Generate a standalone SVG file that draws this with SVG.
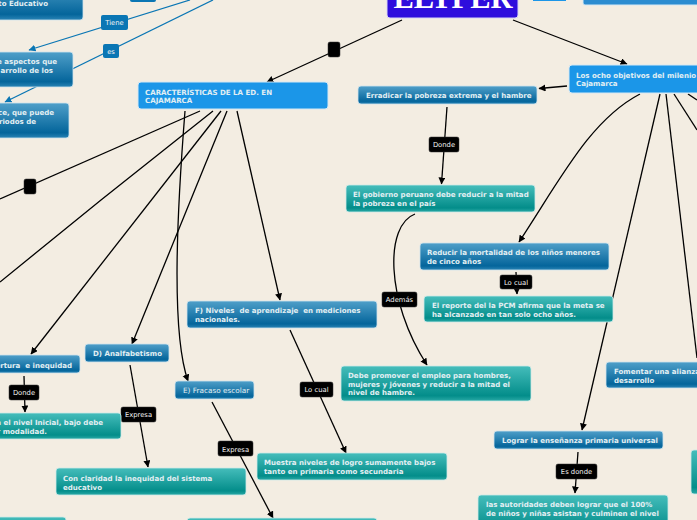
<svg xmlns="http://www.w3.org/2000/svg" width="697" height="520" viewBox="0 0 697 520">
<defs>
<linearGradient id="gb" x1="0" y1="0" x2="0" y2="1"><stop offset="0" stop-color="#4f9fc9"/><stop offset="0.85" stop-color="#04659b"/><stop offset="1" stop-color="#2a84b5"/></linearGradient>
<linearGradient id="gt" x1="0" y1="0" x2="0" y2="1"><stop offset="0" stop-color="#45bdbb"/><stop offset="0.85" stop-color="#038d8a"/><stop offset="1" stop-color="#2aa9a6"/></linearGradient>
<marker id="a" markerWidth="8" markerHeight="8" refX="6.500" refY="3.500" orient="auto" markerUnits="userSpaceOnUse"><path d="M0 0L7 3.500L0 7z" fill="#000"/></marker>
<marker id="ab" markerWidth="8" markerHeight="8" refX="6.500" refY="3.500" orient="auto" markerUnits="userSpaceOnUse"><path d="M0 0L7 3.500L0 7z" fill="#0a76b4"/></marker>
</defs>
<style>
text{font-family:"DejaVu Sans",sans-serif;font-size:7.05px;font-weight:700;fill:#e2eff3;white-space:pre}
.b{fill:url(#gb);stroke:#cfe3ee;stroke-width:.8}
.t{fill:url(#gt);stroke:#cdeae8;stroke-width:.8}
.s{fill:#1b96e8;stroke:#d5e8f4;stroke-width:1}
.l{fill:#000;stroke:#333;stroke-width:.5}
.lb{fill:#0a76b4}
.lt{font-weight:400;font-size:6.8px;fill:#f4f4f4;text-anchor:middle}
.r{text-anchor:end}
#connectors path{fill:none;stroke:#000;stroke-width:1.3}
#connectors .bl{stroke:#0a76b4}
</style>
<rect width="697" height="520" fill="#f3ede2"/>
<g id="connectors">
<path d="M402 20L267 82" marker-end="url(#a)"/>
<path d="M513 20L627 64" marker-end="url(#a)"/>
<path d="M567 86L539 88.500" marker-end="url(#a)"/>
<path d="M447 107L441.500 184" marker-end="url(#a)"/>
<path d="M200 111L0 199"/>
<path d="M213 111L101 200L0 282"/>
<path d="M221 111L31 354" marker-end="url(#a)"/>
<path d="M227 111L132 344" marker-end="url(#a)"/>
<path d="M237 111L280 300" marker-end="url(#a)"/>
<path d="M185 111C178 200 170 330 188 381" marker-end="url(#a)"/>
<path d="M24 376L25 412" marker-end="url(#a)"/>
<path d="M130 365L148 467" marker-end="url(#a)"/>
<path d="M212 402L273 518" marker-end="url(#a)"/>
<path d="M290 330L346 453" marker-end="url(#a)"/>
<path d="M415 214C385 225 385 300 427 365" marker-end="url(#a)"/>
<path d="M640 94C590 120 560 180 519 242" marker-end="url(#a)"/>
<path d="M516 272L517 294" marker-end="url(#a)"/>
<path d="M660 94L582 430" marker-end="url(#a)"/>
<path d="M666 94L697 358"/>
<path d="M674 94L697 130"/>
<path d="M688 94L697 100"/>
<path d="M578 452L575 493" marker-end="url(#a)"/>
<path class="bl" d="M190 0L29 50" marker-end="url(#ab)"/>
<path class="bl" d="M213 0L5 102" marker-end="url(#ab)"/>
</g>
<g id="n-eltper"><rect x="387" y="-10" width="131" height="28" rx="3" fill="#2e0ddd" stroke="#d8d4f4"/><text x="453" y="7.500" text-anchor="middle" style="font-family:'Liberation Serif',serif;font-size:30.5px;fill:#fff">ELTPER</text></g>
<g id="n-top1"><rect x="130" y="-8" width="26" height="10" rx="2" fill="#0a76b4"/></g>
<g id="n-top2"><rect x="533" y="-8" width="33" height="9" fill="#1b96e8"/></g>
<g id="n-top3"><rect x="583" y="-10" width="120" height="15" rx="2" fill="#2b8cd0" stroke="#d5e8f4"/></g>
<g id="n-edu"><rect x="-20" y="-18" width="103" height="38" rx="3" class="b"/><text x="48" y="6" class="r">to Educativo</text></g>
<g id="n-aspectos"><rect x="-60" y="52" width="133" height="35" rx="3" class="b"/><text x="57" y="64" class="r">e aspectos que</text><text x="53" y="73" class="r">arrollo de los</text></g>
<g id="n-puede"><rect x="-60" y="103" width="129" height="35" rx="3" class="b"/><text x="54" y="115" class="r">ce, que puede</text><text x="36" y="124" class="r">riodos de</text></g>
<g id="l-tiene"><rect x="101" y="15" width="27" height="15" rx="2" class="lb"/><text x="114.500" y="25" class="lt">Tiene</text></g>
<g id="l-es"><rect x="103" y="44" width="16" height="14" rx="2" class="lb"/><text x="111" y="53.500" class="lt">es</text></g>
<g id="j1"><rect x="328" y="42" width="12" height="15" rx="2" class="l"/></g>
<g id="j2"><rect x="24" y="179" width="12" height="15" rx="2" class="l"/></g>
<g id="n-carac"><rect x="138" y="82" width="190" height="27" rx="3" class="s"/><text x="145" y="95">CARACTERÍSTICAS DE LA ED. EN</text><text x="145" y="103">CAJAMARCA</text></g>
<g id="n-ocho"><rect x="569" y="65" width="140" height="28" rx="3" class="s"/><text x="576" y="78">Los ocho objetivos del milenio</text><text x="576" y="86">Cajamarca</text></g>
<g id="n-erradicar"><rect x="358" y="86" width="179" height="18" rx="3" class="b"/><text x="366" y="98">Erradicar la pobreza extrema y el hambre</text></g>
<g id="l-donde1"><rect x="429" y="137" width="30" height="15" rx="2" class="l"/><text x="444" y="147" class="lt">Donde</text></g>
<g id="n-gob"><rect x="346" y="185" width="189" height="27" rx="3" class="t"/><text x="353" y="197">El gobierno peruano debe reducir a la mitad</text><text x="353" y="206">la pobreza en el país</text></g>
<g id="n-reducir"><rect x="420" y="243" width="189" height="27" rx="3" class="b"/><text x="427" y="255">Reducir la mortalidad de los niños menores</text><text x="427" y="264">de cinco años</text></g>
<g id="l-locual1"><rect x="500" y="275" width="32" height="14" rx="2" class="l"/><text x="516" y="285" class="lt">Lo cual</text></g>
<g id="n-reporte"><rect x="424" y="296" width="189" height="26" rx="3" class="t"/><text x="432" y="308">El reporte del la PCM afirma que la meta se</text><text x="432" y="317">ha alcanzado en tan solo ocho años.</text></g>
<g id="l-ademas"><rect x="382" y="292" width="35" height="15" rx="2" class="l"/><text x="399.500" y="302" class="lt">Además</text></g>
<g id="n-promover"><rect x="341" y="366" width="190" height="35" rx="3" class="t"/><text x="348" y="378">Debe promover el empleo para hombres,</text><text x="348" y="387">mujeres y jóvenes y reducir a la mitad el</text><text x="348" y="395">nivel de hambre.</text></g>
<g id="n-fomentar"><rect x="606" y="362" width="120" height="26" rx="3" class="b"/><text x="614" y="374">Fomentar una alianza</text><text x="614" y="383">desarrollo</text></g>
<g id="n-lograr"><rect x="494" y="431" width="169" height="18" rx="3" class="b"/><text x="502" y="443">Lograr la enseñanza primaria universal</text></g>
<g id="l-esdonde"><rect x="556" y="464" width="41" height="15" rx="2" class="l"/><text x="576.500" y="474" class="lt">Es donde</text></g>
<g id="n-autoridades"><rect x="478" y="495" width="190" height="40" rx="3" class="t"/><text x="486" y="507">las autoridades deben lograr que el 100%</text><text x="486" y="516">de niños y niñas asistan y culminen el nivel</text></g>
<g id="n-right"><rect x="691" y="450" width="20" height="44" rx="3" class="t"/></g>
<g id="n-f"><rect x="187" y="301" width="190" height="27" rx="3" class="b"/><text x="195" y="313">F) Niveles  de aprendizaje  en mediciones</text><text x="195" y="322">nacionales.</text></g>
<g id="l-locual2"><rect x="300" y="382" width="33" height="15" rx="2" class="l"/><text x="316.500" y="392" class="lt">Lo cual</text></g>
<g id="n-muestra"><rect x="257" y="453" width="190" height="27" rx="3" class="t"/><text x="264" y="465">Muestra niveles de logro sumamente bajos</text><text x="264" y="474">tanto en primaria como secundaria</text></g>
<g id="n-d"><rect x="85" y="344" width="84" height="18" rx="3" class="b"/><text x="93" y="356">D) Analfabetismo</text></g>
<g id="l-expresa1"><rect x="121" y="407" width="35" height="15" rx="2" class="l"/><text x="138.500" y="417" class="lt">Expresa</text></g>
<g id="n-claridad"><rect x="56" y="468" width="190" height="27" rx="3" class="t"/><text x="63" y="481">Con claridad la inequidad del sistema</text><text x="63" y="490">educativo</text></g>
<g id="n-e"><rect x="175" y="381" width="79" height="18" rx="3" class="b"/><text x="183" y="393" style="font-weight:400;font-size:7.3px">E) Fracaso escolar</text></g>
<g id="l-expresa2"><rect x="218" y="441" width="35" height="15" rx="2" class="l"/><text x="235.500" y="452" class="lt">Expresa</text></g>
<g id="n-bottom"><rect x="187" y="518" width="190" height="20" rx="3" class="t"/></g>
<g id="n-bottom2"><rect x="-60" y="517" width="126" height="20" rx="3" class="t"/></g>
<g id="n-cobertura"><rect x="-60" y="355" width="140" height="18" rx="3" class="b"/><text x="72" y="368" class="r">ertura  e inequidad</text></g>
<g id="l-donde2"><rect x="9" y="385" width="30" height="15" rx="2" class="l"/><text x="24" y="395" class="lt">Donde</text></g>
<g id="n-inicial"><rect x="-60" y="413" width="181" height="26" rx="3" class="t"/><text x="103" y="425" class="r">n el nivel Inicial, bajo debe</text><text x="47" y="434" class="r">r modalidad.</text></g>
</svg>
